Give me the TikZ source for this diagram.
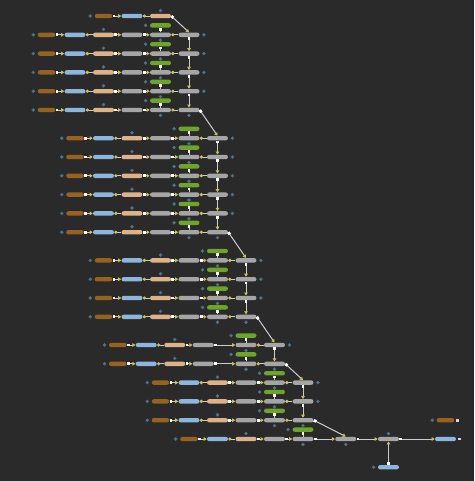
\documentclass[tikz,border=0pt]{standalone}
\usepackage{xcolor}
\usepackage{tikz}
\usetikzlibrary{arrows.meta, positioning}
\definecolor{bgc}{RGB}{42,42,42}
\definecolor{brownc}{RGB}{150,98,30}
\definecolor{bluec}{RGB}{140,182,222}
\definecolor{tanc}{RGB}{222,178,134}
\definecolor{grayc}{RGB}{165,165,165}
\definecolor{greenc}{RGB}{108,165,40}
\definecolor{sockc}{RGB}{55,125,165}
\definecolor{tipc}{RGB}{205,195,75}
\definecolor{wirec}{RGB}{205,205,205}
\tikzset{
  bar/.style={rectangle, rounded corners=0.55mm, inner sep=0pt,
              minimum width=5.25mm, minimum height=1.1mm},
  brownb/.style={bar, fill=brownc, minimum width=4.4mm},
  blueb/.style={bar, fill=bluec},
  tanb/.style={bar, fill=tanc},
  grayb/.style={bar, fill=grayc},
  greenb/.style={bar, fill=greenc},
  sock/.style={circle, inner sep=0pt, minimum size=0.8mm, fill=sockc,
               draw=black!60, line width=0.2pt},
  outsq/.style={rectangle, inner sep=0pt, minimum size=0.7mm, fill=white!85!black},
  link/.style={{Square[length=0.7mm, color=white]}-{Triangle[length=0.75mm, width=0.9mm, color=tipc]},
               line width=0.25mm, draw=wirec},
  dlink/.style={{Circle[length=0.8mm, color=tipc]}-, line width=0.25mm, draw=wirec},
  glink/.style={{Square[length=0.7mm, color=white]}-, line width=0.25mm, draw=wirec},
}

\begin{document}
\begin{tikzpicture}[x=7.125mm, y=-4.7mm]
  \fill[bgc] (-1.6316,-0.8511) rectangle (15,24.734);
  \useasboundingbox (-1.6316,-0.8511) rectangle (15,24.734);

  % first short row
  \node[brownb] (br-0) at (2,0) {};
  \node[blueb]  (bl-0) at (3,0) {};
  \node[tanb]   (tn-0) at (4,0) {};
  \node[sock, left=0.6mm of br-0]  (sa-0) {};
  \node[sock, above=0.3mm of tn-0] (st-0) {};
  \draw[link]  (br-0) -- (bl-0);
  \draw[dlink] (bl-0) -- (tn-0);

  % rows: index / first column / row / mix column / chain column / last link
  \foreach \r/\k/\i/\kb/\kc/\lk in {1/0/1/4/5/dlink, 2/0/2/4/5/dlink, 3/0/3/4/5/dlink,
      4/0/4/4/5/dlink, 5/0/5/4/5/dlink,
      6/1/6.5/5/6/dlink, 7/1/7.5/5/6/dlink, 8/1/8.5/5/6/dlink, 9/1/9.5/5/6/dlink,
      10/1/10.5/5/6/dlink, 11/1/11.5/5/6/dlink,
      12/2/13/6/7/dlink, 13/2/14/6/7/dlink, 14/2/15/6/7/dlink, 15/2/16/6/7/dlink,
      16/2.5/17.5/7/8/dlink, 17/2.5/18.5/7/8/dlink,
      18/4/19.5/8/9/dlink, 19/4/20.5/8/9/dlink, 20/4/21.5/8/9/dlink,
      21/5/22.5/9/10.5/link}{
    \node[brownb] (br-\r) at (\k,\i) {};
    \node[blueb]  (bl-\r) at (\k+1,\i) {};
    \node[tanb]   (tn-\r) at (\k+2,\i) {};
    \node[grayb]  (ga-\r) at (\k+3,\i) {};
    \node[grayb]  (gb-\r) at (\kb,\i) {};
    \node[grayb]  (gc-\r) at (\kc,\i) {};
    \node[greenb] (gn-\r) at (\kb,\i-0.5) {};
    \node[sock, left=0.6mm of br-\r]  (sa-\r) {};
    \node[sock, above=0.3mm of tn-\r] (st-\r) {};
    \node[sock, left=0.6mm of gn-\r]  (sg-\r) {};
    \node[sock, below=0.3mm of gb-\r] (sb-\r) {};
    \draw[link]  (br-\r) -- (bl-\r);
    \draw[dlink] (bl-\r) -- (tn-\r);
    \draw[link]  (tn-\r) -- (ga-\r);
    \draw[link]  (ga-\r) -- (gb-\r);
    \draw[\lk]   (gb-\r) -- (gc-\r);
    \draw[glink] (gn-\r) -- (gb-\r);
  }

  % chain down each group
  \foreach \r in {1,2,3,4,6,7,8,9,10,12,13,14,16,18,19}{
    \pgfmathtruncatemacro{\n}{\r+1}
    \node[sock, right=0.6mm of gc-\r] (sr-\r) {};
    \draw[link] (gc-\r) -- (gc-\n);
  }
  \foreach \r in {5,11,15,17,20,21}
    \node[sock, below=0.3mm of gc-\r] (sd-\r) {};

  % hand over to the next group
  \draw[link] (tn-0.east) -- (gc-1.north);
  \foreach \a/\b in {5/6, 11/12, 15/16, 17/18, 20/21}
    \draw[link] (gc-\a.east) -- (gc-\b.north);

  % end of the tree
  \node[grayb]  (gd)  at (12,22.5) {};
  \node[blueb]  (out) at (14,22.5) {};
  \node[brownb] (tex) at (14,21.5) {};
  \node[blueb]  (vec) at (12,24) {};
  \node[sock, above=0.3mm of gd]  (sgd)  {};
  \node[sock, left=0.6mm of vec]  (svec) {};
  \node[sock, left=0.6mm of tex]  (stex) {};
  \node[outsq, right=0.4mm of out] (qout) {};
  \node[outsq, right=0.4mm of tex] (qtex) {};
  \draw[link] (gc-21) -- (gd);
  \draw[link] (gd) -- (out);
  \draw[link] (vec) -- (gd);
\end{tikzpicture}
\end{document}
